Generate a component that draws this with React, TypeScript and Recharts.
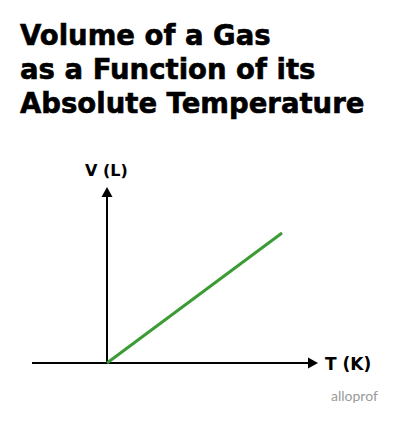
import React from 'react';
import { LineChart, Line, XAxis, YAxis, ReferenceLine, ReferenceDot } from 'recharts';

// Temperature (K) and volume (L), arbitrary units
const temperatures = [0, 175];
const volumes = [0, 130];
const xDomain = [-75, 211];
const yDomain = [0, 176];

const titleLines = ['Volume of a Gas', 'as a Function of its', 'Absolute Temperature'];
const xLabel = 'T (K)';
const yLabel = 'V (L)';

const data = temperatures.map((t, i) => ({ t, v: volumes[i] }));

const AXIS = '#000';
const GREEN = '#3b9c35';

const RightArrow = (props: any) => {
  const { cx, cy } = props;
  return <polygon points={`${cx},${cy} ${cx - 10},${cy - 5.5} ${cx - 10},${cy + 5.5}`} fill={AXIS} />;
};

const UpArrow = (props: any) => {
  const { cx, cy } = props;
  return <polygon points={`${cx},${cy} ${cx - 5.5},${cy + 10} ${cx + 5.5},${cy + 10}`} fill={AXIS} />;
};

export default function App() {
  const font = '"DejaVu Sans", sans-serif';
  return (
    <div style={{ position: 'absolute', left: 0, top: 0, width: 400, height: 421, background: '#fff', fontFamily: font }}>
      <div style={{ position: 'absolute', left: 20, top: 18, fontSize: 27.5, fontWeight: 700, lineHeight: '34px', color: '#000', whiteSpace: 'nowrap', WebkitTextStroke: '0.6px #000' }}>
        {titleLines.map(l => <div key={l}>{l}</div>)}
      </div>
      <LineChart width={400} height={421} data={data} margin={{ top: 187, right: 82, bottom: 58, left: 32 }}>
        <XAxis dataKey="t" type="number" domain={xDomain} hide />
        <YAxis dataKey="v" type="number" domain={yDomain} hide />
        <ReferenceLine segment={[{ x: xDomain[0], y: 0 }, { x: xDomain[1] - 8, y: 0 }]} stroke={AXIS} strokeWidth={2} ifOverflow="visible" />
        <ReferenceLine segment={[{ x: 0, y: 0 }, { x: 0, y: yDomain[1] - 8 }]} stroke={AXIS} strokeWidth={2} ifOverflow="visible" />
        <ReferenceDot x={xDomain[1]} y={0} shape={RightArrow} ifOverflow="visible" />
        <ReferenceDot x={0} y={yDomain[1]} shape={UpArrow} ifOverflow="visible" />
        <Line type="linear" dataKey="v" stroke={GREEN} strokeWidth={3} dot={false} isAnimationActive={false} />
      </LineChart>
      <div style={{ position: 'absolute', left: 85, top: 161, fontSize: 16, fontWeight: 700, color: '#000', whiteSpace: 'nowrap' }}>{yLabel}</div>
      <div style={{ position: 'absolute', left: 325, top: 354, fontSize: 17, fontWeight: 700, color: '#000', whiteSpace: 'nowrap' }}>{xLabel}</div>
      <div style={{ position: 'absolute', left: 331, top: 387, fontSize: 14, color: '#9a9a9a', fontFamily: 'Lato, sans-serif' }}>alloprof</div>
    </div>
  );
}
